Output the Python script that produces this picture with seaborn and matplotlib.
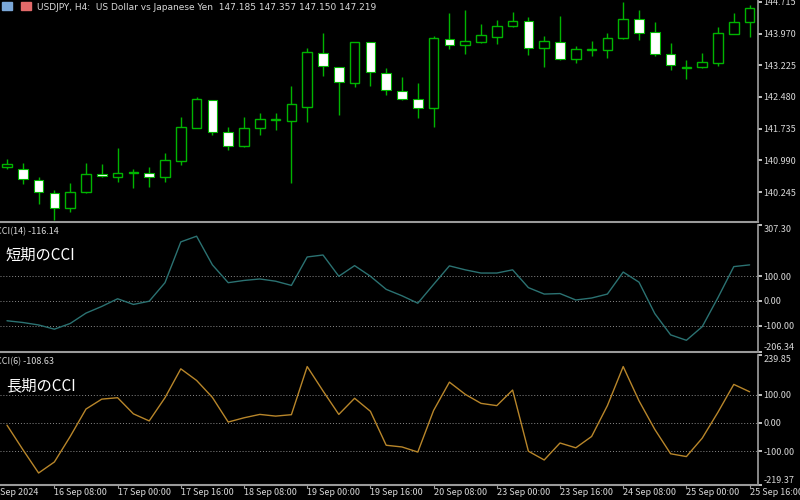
import numpy as np
import pandas as pd
import matplotlib
matplotlib.use("Agg")
import matplotlib.pyplot as plt
import seaborn as sns

sns.set_theme(style="dark")
plt.rcParams['font.family'] = ['Noto Sans CJK JP', 'DejaVu Sans']

opens  = [140.84,140.79,140.53,140.22,139.87,140.25,140.67,140.60,140.69,140.69,140.60,140.98,141.75,142.41,141.66,141.33,
          141.75,141.94,141.92,142.25,143.52,143.19,142.81,143.77,143.05,142.62,142.43,142.22,143.84,143.70,143.77,143.89,
          144.15,144.27,143.63,143.77,143.37,143.59,143.59,143.87,144.32,144.01,143.49,143.16,143.19,143.28,143.96,144.25]
highs  = [141.02,140.93,140.60,140.30,140.46,140.93,140.91,141.28,140.79,140.84,141.17,142.01,142.48,142.41,141.78,142.01,
          142.11,142.11,142.74,143.63,143.99,143.19,143.77,143.77,143.16,142.95,142.81,143.91,144.46,144.53,144.20,144.29,
          144.48,144.36,143.91,144.39,143.68,143.80,143.99,144.71,144.53,144.25,143.75,143.35,143.52,144.13,144.46,144.64]
lows   = [140.79,140.44,139.97,139.59,139.77,140.22,140.60,140.48,140.34,140.37,140.48,140.88,141.75,141.59,141.24,141.31,
          141.59,141.71,140.46,141.89,142.97,142.06,142.72,142.74,142.53,142.41,141.99,141.78,143.61,143.49,143.75,143.73,
          144.13,143.47,143.19,143.35,143.28,143.45,143.40,143.84,143.82,143.45,143.12,142.90,143.16,143.21,143.96,143.89]
closes = [140.91,140.55,140.25,139.87,140.25,140.67,140.62,140.69,140.72,140.60,141.00,141.78,142.43,141.66,141.33,141.75,
          141.96,141.96,142.32,143.54,143.21,142.83,143.77,143.07,142.65,142.43,142.22,143.87,143.70,143.80,143.94,144.15,
          144.27,143.63,143.80,143.37,143.61,143.61,143.87,144.32,143.99,143.49,143.23,143.19,143.30,143.99,144.25,144.57]
cci14 = [-80,-87,-97,-114,-91,-49,-22,9,-14,-1,74,239,262,146,74,83,89,80,63,178,186,100,143,100,47,21,-9,67,142,126,
         113,113,126,54,28,30,4,12,28,117,76,-51,-137,-159,-104,14,139,146]
cci6 = [-8,-94,-177,-138,-48,49,84,89,32,7,89,191,150,90,3,18,30,24,29,199,113,30,87,41,-79,-85,-103,44,144,101,
        69,61,116,-100,-131,-71,-88,-48,61,199,78,-23,-109,-119,-54,38,136,110]
price_ticks = [144.715,143.970,143.225,142.480,141.735,140.990,140.245]
date_labels = ['16 Sep 2024','16 Sep 08:00','17 Sep 00:00','17 Sep 16:00','18 Sep 08:00','19 Sep 00:00','19 Sep 16:00',
               '20 Sep 08:00','23 Sep 00:00','23 Sep 16:00','24 Sep 08:00','25 Sep 00:00','25 Sep 16:00']
date_pos = [-1.2,3,7,11,15,19,23,27,31,35,39,43,47]

idx = np.arange(len(opens))
df = pd.DataFrame({'i': idx, 'o': opens, 'h': highs, 'l': lows, 'c': closes, 'cci14': cci14, 'cci6': cci6})

BG = 'black'; FG = '#d8d8d8'; GREEN = '#00b400'
fig = plt.figure(figsize=(8, 5), dpi=100, facecolor=BG)
W = 758/800
ax0 = fig.add_axes([0, 1-222/500, W, 222/500])
ax1 = fig.add_axes([0, 1-352/500, W, 127/500])
ax2 = fig.add_axes([0, 1-485/500, W, 130/500])
xl = (-7/15.8, (758-7)/15.8)
for ax in (ax0, ax1, ax2):
    ax.set_facecolor(BG)
    ax.set_xlim(*xl)
    ax.yaxis.tick_right()
    ax.tick_params(axis='y', colors=FG, labelsize=6.5, length=3, pad=1, direction='out')
    ax.tick_params(axis='x', length=0)
    for s in ax.spines.values():
        s.set_visible(False)
    ax.spines['right'].set_visible(True); ax.spines['right'].set_color('#9a9a9a')
    ax.spines['bottom'].set_visible(True); ax.spines['bottom'].set_color('#9a9a9a'); ax.spines['bottom'].set_linewidth(1.5)
    ax.set_xticks([]); ax.grid(False)
    ax.set_xlabel(''); ax.set_ylabel('')

# candles
ax0.vlines(df.i, df.l, df.h, color=GREEN, lw=1)
bull = df[df.c >= df.o]; bear = df[df.c < df.o]
ax0.bar(bull.i, (bull.c - bull.o).clip(lower=0.02), bottom=bull.o, width=0.62, color=BG, edgecolor=GREEN, lw=1, zorder=3)
ax0.bar(bear.i, (bear.o - bear.c), bottom=bear.c, width=0.62, color='white', edgecolor=GREEN, lw=0.8, zorder=3)
ax0.set_ylim(139.54, 144.76)
ax0.set_yticks(price_ticks); ax0.set_yticklabels([f'{v:.3f}' for v in price_ticks])
ax0.text(37/758, 0.985, 'USDJPY, H4:  US Dollar vs Japanese Yen  147.185 147.357 147.150 147.219',
         transform=ax0.transAxes, color=FG, fontsize=6.5, va='top', ha='left', family=['DejaVu Sans'])
ax0.add_patch(plt.Rectangle((2/758, 0.955), 10/758, 0.035, transform=ax0.transAxes, color='#7aa7d8'))
ax0.add_patch(plt.Rectangle((21/758, 0.955), 10/758, 0.035, transform=ax0.transAxes, color='#e26a6a'))

# CCI panels
sns.lineplot(data=df, x='i', y='cci14', ax=ax1, color='#2b7272', lw=1)
ax1.set_ylim(-206.34, 307.30)
ax1.set_yticks([307.30, 100, 0, -100, -206.34]); ax1.set_yticklabels(['307.30','100.00','0.00','-100.00','-206.34'])
sns.lineplot(data=df, x='i', y='cci6', ax=ax2, color='#b8862a', lw=1)
ax2.set_ylim(-219.37, 239.85)
ax2.set_yticks([239.85, 100, 0, -100, -219.37]); ax2.set_yticklabels(['239.85','100.00','0.00','-100.00','-219.37'])
for ax in (ax1, ax2):
    for v in (100, 0, -100):
        ax.axhline(v, color='#8a8a8a', ls=(0, (1, 2)), lw=0.7, zorder=0)
    ax.set_xlim(*xl); ax.set_xlabel(''); ax.set_ylabel('')
    labs = ax.get_yticklabels()
    labs[0].set_va('top'); labs[-1].set_va('bottom')
ax1.text(-4/758, 0.985, 'CCI(14) -116.14', transform=ax1.transAxes, color=FG, fontsize=6.5, va='top')
ax2.text(-4/758, 0.985, 'CCI(6) -108.63', transform=ax2.transAxes, color=FG, fontsize=6.5, va='top')
ax1.text(6/758, 0.76, '短期のCCI', transform=ax1.transAxes, color='white', fontsize=11, va='center')
ax2.text(6/758, 0.76, '長期のCCI', transform=ax2.transAxes, color='white', fontsize=11, va='center')

for p, lab in zip(date_pos, date_labels):
    ax2.text(p, -0.02, lab, transform=ax2.get_xaxis_transform(), ha='left', va='top', color=FG, fontsize=6.5, clip_on=False)
    if p >= 0:
        ax2.plot([p, p], [0, -0.02], transform=ax2.get_xaxis_transform(), color='#9a9a9a', lw=0.8, clip_on=False)

fig.savefig('out.png', dpi=100, facecolor=BG)
